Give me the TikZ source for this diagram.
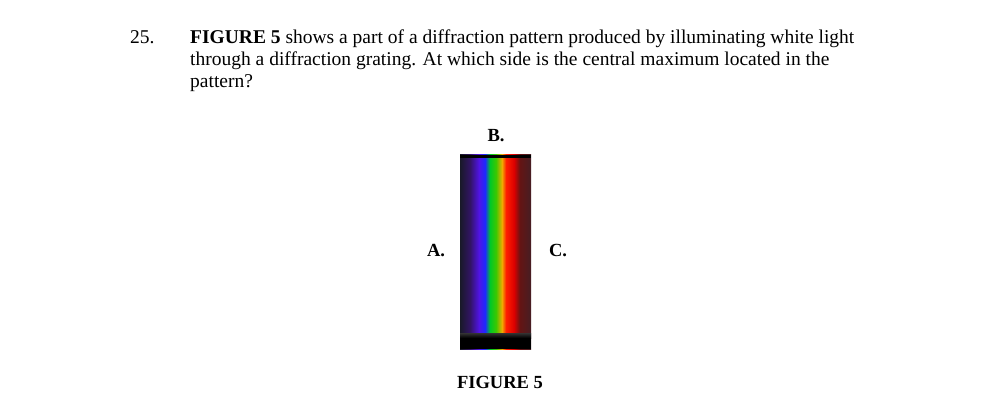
\documentclass[tikz,border=0pt]{standalone}
\usepackage{fontspec}
\setmainfont{Liberation Serif}
\begin{document}
\begin{tikzpicture}[x=1pt,y=-1pt,
  txt/.style={anchor=base west,inner sep=0pt,font=\fontsize{19.5}{22}\selectfont},
  lbl/.style={anchor=base,inner sep=0pt,font=\bfseries\fontsize{18.5}{22}\selectfont}]
\useasboundingbox[fill=white] (0,0) rectangle (1000,403);
\node[txt] (num) at (130,44) {25.};
\node[txt] (l1) at (190,44) {\textbf{FIGURE 5} shows a part of a diffraction pattern produced by illuminating white light};
\node[txt] (l2) at (190,66) {through a diffraction grating. At which side is the central maximum located in the};
\node[txt] (l3) at (190,88) {pattern?};
% spectrum bands
\def\band#1#2#3#4{\shade[left color=#3,right color=#4] (#1,155) rectangle (#2,349);}
\definecolor{c0}{RGB}{25,25,40}
\definecolor{c1}{RGB}{50,20,100}
\definecolor{c2}{RGB}{80,20,230}
\definecolor{c3}{RGB}{30,40,255}
\definecolor{c4}{RGB}{0,200,40}
\definecolor{c5}{RGB}{60,200,0}
\definecolor{c6}{RGB}{240,170,0}
\definecolor{c7}{RGB}{255,30,0}
\definecolor{c8}{RGB}{220,0,0}
\definecolor{c9}{RGB}{100,20,20}
\definecolor{c10}{RGB}{70,30,35}
\band{460}{470}{c0}{c1}
\band{470}{479}{c1}{c2}
\band{479}{485}{c2}{c3}
\band{485}{490}{c3}{c4}
\band{490}{496}{c4}{c5}
\band{496}{502}{c5}{c6}
\band{502}{506}{c6}{c7}
\band{506}{514}{c7}{c8}
\band{514}{520}{c8}{c9}
\band{520}{531}{c9}{c10}
\fill[black] (460,155) rectangle (531,158);
\shade[top color=black!80,bottom color=black] (460,333) rectangle (531,338);
\fill[black] (460,338) rectangle (531,349);
\node[lbl] (B) at (496,142) {B.};
\node[lbl] (A) at (436,256) {A.};
\node[lbl] (C) at (558,256) {C.};
\node[lbl] (cap) at (500,388) {FIGURE 5};
\end{tikzpicture}
\end{document}
